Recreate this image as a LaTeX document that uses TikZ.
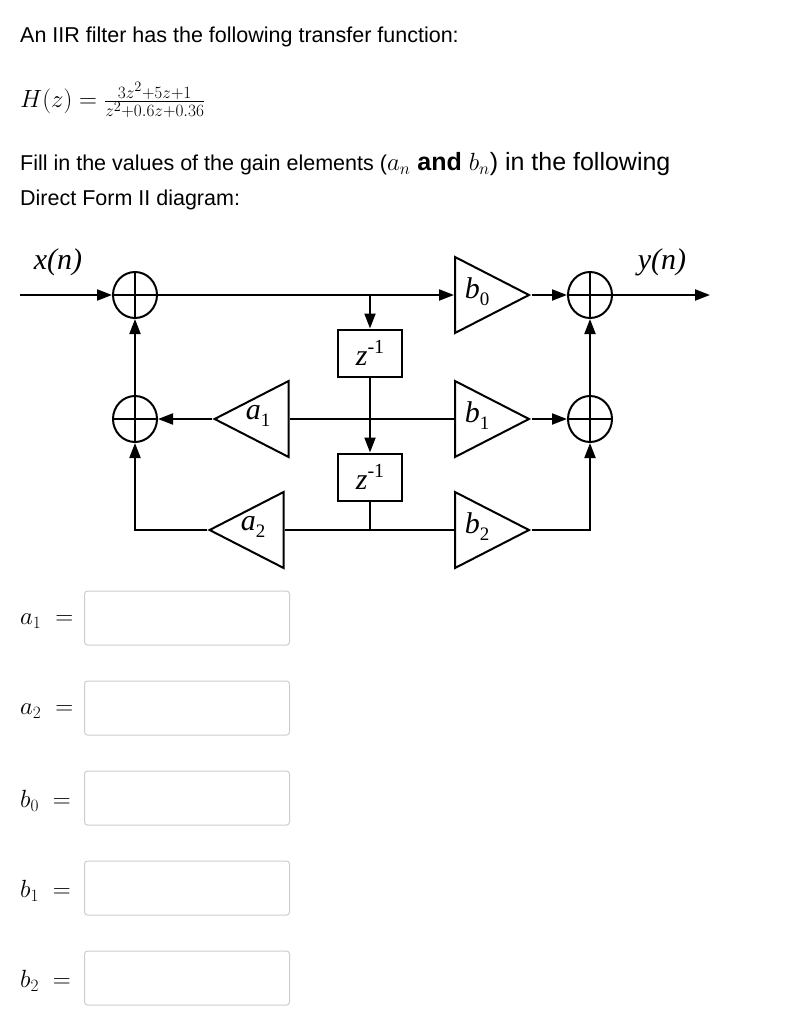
\documentclass[tikz,border=0pt]{standalone}
\usepackage{fontspec}
\setmainfont{Liberation Sans}
\newfontfamily\tms{Liberation Serif}
\usetikzlibrary{shapes.geometric,arrows.meta}
\newcommand\myg[2]{#1\raisebox{-7pt}{\fontsize{19}{19}\selectfont\upshape #2}}
\begin{document}
\begin{tikzpicture}[x=1pt,y=-1pt,
  txt/.style={anchor=west,inner sep=0,font=\fontsize{21.5}{25}\selectfont},
  sum/.style={draw,line width=2pt,ellipse,minimum width=44,minimum height=46,inner sep=0,
    path picture={\draw[line width=2pt] (path picture bounding box.north)--(path picture bounding box.south)
      (path picture bounding box.west)--(path picture bounding box.east);}},
  del/.style={draw,line width=2pt,minimum width=64,minimum height=47,inner sep=0,font=\tms\itshape\fontsize{30}{30}\selectfont},
  gr/.style={draw,line width=2pt,isosceles triangle,isosceles triangle stretches=true,inner sep=0,minimum width=76,minimum height=74},
  gl/.style={inner sep=0,font=\tms\itshape\fontsize{30}{30}\selectfont},
  ln/.style={line width=2pt},
  ar/.style={line width=2pt,-{Triangle[length=15pt,width=11pt]}},
  fld/.style={draw=black!20,line width=1pt,rounded corners=3pt,minimum width=205,minimum height=54,inner sep=0},
  lab/.style={anchor=west,inner sep=0,font=\fontsize{25}{25}\selectfont}]
\useasboundingbox (0,0) rectangle (788,1024);
\node[txt] (t1) at (20,37) {An IIR filter has the following transfer function:};
\node[anchor=west,inner sep=0] (h) at (20,100) {\fontsize{27}{27}\selectfont$H(z)=\frac{3z^2+5z+1}{z^2+0.6z+0.36}$};
\node[txt] (t2) at (20,164) {Fill in the values of the gain elements (\fontsize{25}{25}\selectfont$a_n$ \textbf{and} $b_n$) in the following};
\node[txt] (t3) at (20,200) {Direct Form II diagram:};
% diagram
\node[sum] (s1) at (135,295) {};
\node[sum] (s2) at (135,419) {};
\node[sum] (s3) at (590,295) {};
\node[sum] (s4) at (590,419) {};
\node[del] (d1) at (370,353) {z\raisebox{12pt}{\fontsize{20}{20}\selectfont\upshape -1}};
\node[del] (d2) at (370,477) {z\raisebox{12pt}{\fontsize{20}{20}\selectfont\upshape -1}};
\node[gr,anchor=west] (b0) at (454,295) {};
\node[gl] (tb0) at (477,292) {\myg{b}{0}};
\node[gr,anchor=west] (b1) at (454,419) {};
\node[gl] (tb1) at (477,416) {\myg{b}{1}};
\node[gr,anchor=west] (b2) at (454,530) {};
\node[gl] (tb2) at (477,527) {\myg{b}{2}};
\node[gr,anchor=west,shape border rotate=180] (a1) at (212,419) {};
\node[gl] (ta1) at (258,416) {\myg{a}{1}};
\node[gr,anchor=west,shape border rotate=180] (a2) at (207,530) {};
\node[gl] (ta2) at (253,527) {\myg{a}{2}};
\node[gl] (tx) at (58,262) {x(n)};
\node[gl] (ty) at (662,262) {y(n)};
\coordinate (in) at (20,295);
\coordinate (out) at (710,295);
\coordinate (j1) at (370,295);
\coordinate (j3) at (370,530);
\coordinate (l3) at (135,530);
\coordinate (r3) at (590,530);
\draw[ar] (in)--(s1);
\draw[ar] (s1)--(b0.west);
\draw[ar] (j1)--(d1);
\draw[ar] (b0.east)--(s3);
\draw[ar] (s3)--(out);
\draw[ar] (d1)--(d2);
\draw[ln] (a1.east)--(b1.west);
\draw[ar] (a1.west)--(s2);
\draw[ar] (b1.east)--(s4);
\draw[ar] (s2)--(s1);
\draw[ar] (s4)--(s3);
\draw[ln] (d2)--(j3);
\draw[ln] (a2.east)--(b2.west);
\draw[ar] (a2.west)--(l3)--(s2);
\draw[ar] (b2.east)--(r3)--(s4);
% fields
\foreach \n/\y/\l in {f1/618/a_1,f2/708/a_2,f3/798/b_0,f4/888/b_1,f5/978/b_2}{
  \node[lab] (l\n) at (20,\y+3) {$\l\ =$};
  \node[fld,anchor=west] (\n) at (84,\y) {};
}
\end{tikzpicture}
\end{document}
